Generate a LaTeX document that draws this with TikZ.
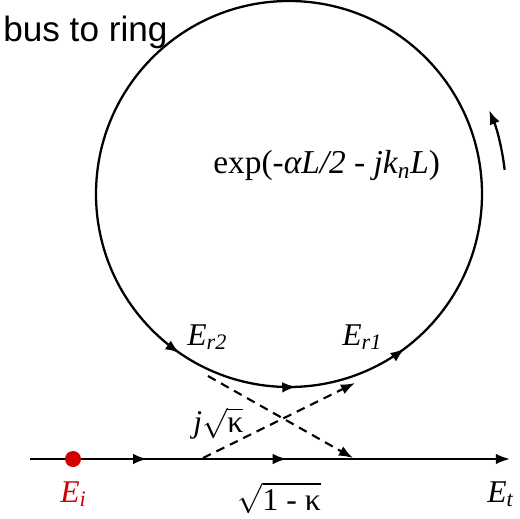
\documentclass[tikz,border=0pt]{standalone}
\usepackage{fontspec}
\setmainfont{Liberation Serif}
\newfontfamily\labelsans{Liberation Sans}
\usetikzlibrary{arrows.meta,decorations.markings,positioning,calc}
\definecolor{inred}{RGB}{210,0,0}
\newcommand{\flowtip}{\arrow{Latex[length=8pt,width=6pt]}}

\begin{document}
\begin{tikzpicture}[
		wave/.style={line width=1.3pt},
		coupler/.style={line width=1.2pt, dash pattern=on 5pt off 3.5pt, -{Latex[length=8pt,width=6pt]}},
		ringflow/.style={postaction={decorate}, decoration={markings,
			mark=at position 0.654 with {\flowtip},
			mark=at position 0.756 with {\flowtip},
			mark=at position 0.852 with {\flowtip}}},
		busflow/.style={postaction={decorate}, decoration={markings,
			mark=at position 0.244 with {\flowtip},
			mark=at position 0.535 with {\flowtip}}},
		lbl/.style={inner sep=0, anchor=base west, font=\fontsize{18}{21}\selectfont}
	]
	\useasboundingbox (0,0) rectangle (10.4,10.36);
	
	% ring resonator
	\coordinate (ringc) at (5.78,6.48);
	\draw[wave, ringflow] (ringc) circle (3.86);
	
	% sense of circulation
	\coordinate (rotstart) at ($(ringc)+(6.4:4.34)$);
	\draw[wave, -{Latex[length=8pt,width=6pt]}] (rotstart) arc[start angle=6.4, end angle=22.7, radius=4.34];
	
	% bus waveguide
	\coordinate (busin) at (0.6,1.18);
	\coordinate (busout) at (10.2,1.18);
	\draw[wave, busflow, -{Latex[length=8pt,width=6pt]}] (busin) -- (busout);
	\node[circle, fill=inred, inner sep=0, minimum size=0.32cm] (Ei) at (1.46,1.18) {};
	
	% cross coupling
	\coordinate (busup) at (4.06,1.2);
	\coordinate (ringin) at (7.1,2.7);
	\coordinate (ringout) at (4.16,2.84);
	\coordinate (busdown) at (7.06,1.2);
	\draw[coupler] (busup) -- (ringin);
	\draw[coupler] (ringout) -- (busdown);
	
	% labels
	\node[lbl, font=\fontsize{19}{22}\selectfont] (prop) at (4.26,6.88) {exp(-{\itshape αL/2 - jk\textsubscript{n}L})};
	\node[lbl] (Er2) at (3.74,3.46) {\itshape E\textsubscript{r2}};
	\node[lbl] (Er1) at (6.84,3.46) {\itshape E\textsubscript{r1}};
	\node[lbl] (cross) at (3.86,1.72) {$\mbox{\itshape j}\sqrt{\mbox{κ}}$};
	\node[lbl] (through) at (4.74,0.16) {$\sqrt{\mbox{1 - κ}}$};
	\node[lbl, text=inred] (Eilbl) at (1.2,0.32) {\itshape E\textsubscript{i}};
	\node[lbl] (Et) at (9.74,0.32) {\itshape E\textsubscript{t}};
	\node[inner sep=0, anchor=base west, font=\labelsans\fontsize{20}{24}\selectfont] (title) at (0.06,9.52) {bus to ring};
\end{tikzpicture}
\end{document}
